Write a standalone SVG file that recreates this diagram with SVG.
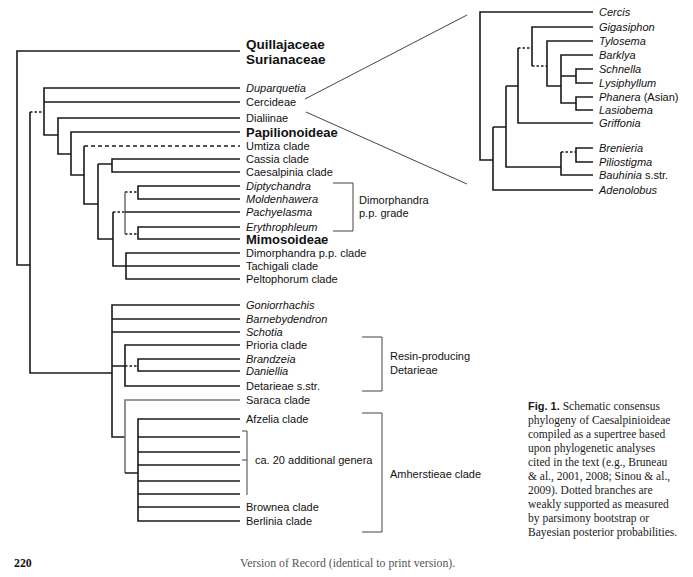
<svg xmlns="http://www.w3.org/2000/svg" width="693" height="577" viewBox="0 0 693 577">
<style>
.br{stroke:#1a1a1a;stroke-width:1.6;fill:none}
.g{stroke:#777}
.dot{stroke-dasharray:2.5 2}
.dash{stroke-dasharray:4 3}
.bk{stroke:#444;stroke-width:1;fill:none}
text{font-family:"Liberation Sans",Arial,sans-serif;font-size:11px;fill:#111}
.i{font-style:italic}
.b{font-weight:bold;font-size:13px}
.q{font-weight:bold;font-size:13.5px}
.cap{font-family:"Liberation Serif","Times New Roman",serif;font-size:11.5px;fill:#1a1a1a}
.capb{font-family:"Liberation Sans",Arial,sans-serif;font-weight:bold;font-size:11px}
.ft{font-family:"Liberation Serif","Times New Roman",serif;font-size:11.8px;fill:#555}
</style>
<rect width="693" height="577" fill="#fff"/>
<g id="connectors">
<path class="br" d="M240,51H17V265H30 M30,112V373H112"/>
<path class="br dot" d="M30,112H44"/>
<path class="br" d="M240,88H44V135H58 M44,102H240"/>
<path class="br" d="M240,118H58V154H71"/>
<path class="br" d="M240,132H71V175H84"/>
<path class="br dash" d="M84,146H240"/>
<path class="br" d="M84,146V204H98"/>
<path class="br" d="M98,164V239H113 M98,164H112"/>
<path class="br" d="M240,159H112V172H240"/>
<path class="br" d="M113,212V266H126"/>
<path class="br dot" d="M113,212H125 M125,192H138 M125,234H138"/>
<path class="br g" d="M125,192V234"/>
<path class="br" d="M125,212H240"/>
<path class="br" d="M240,186H138V199H240"/>
<path class="br" d="M240,227H138V239H240"/>
<path class="br" d="M240,253H126V279H240 M126,266H240"/>
<path class="br" d="M240,305H112V437H125 M112,319H240 M112,332H240"/>
<path class="br" d="M112,366H125 M240,345H125V386H240"/>
<path class="br dot" d="M125,366H138"/>
<path class="br" d="M240,359H138V371H240"/>
<path class="br g" d="M240,400H125V473"/>
<path class="br" d="M125,473H138 M240,419H138V521H240 M138,437H240 M138,452H240 M138,465H240 M138,481H240 M138,494H240 M138,507H240"/>
<path class="bk" d="M333,183H353V231H333"/>
<path class="bk" d="M362,337H382V391H362"/>
<path class="bk" d="M362,413H382V532H362"/>
<path class="bk" d="M242,431H247V495 M242,460H247"/>
<path class="bk" d="M305,99L467,15 M306,112L467,184"/>
<path class="br" d="M593,12H480V160H493"/>
<path class="br" d="M493,127V190H593 M493,127H506"/>
<path class="br" d="M506,86V167H561 M506,86H518"/>
<path class="br" d="M518,48V123H593"/>
<path class="br dot" d="M518,48H532 M532,66H547 M561,152H576"/>
<path class="br" d="M593,27H532V66"/>
<path class="br" d="M593,41H547V86H561"/>
<path class="br" d="M593,55H561V103H576 M561,76H576"/>
<path class="br" d="M593,69H576V83H593"/>
<path class="br" d="M593,97H576V110H593"/>
<path class="br" d="M561,152V175H593"/>
<path class="br" d="M593,148H576V162H593"/>
</g>
<g id="outgroups"><text class="q" x="246" y="49">Quillajaceae</text><text class="q" x="246" y="64">Surianaceae</text></g>
<g id="duparquetia"><text class="i" x="246" y="92">Duparquetia</text></g>
<g id="cercideae"><text x="246" y="106">Cercideae</text></g>
<g id="dialiinae"><text x="246" y="122">Dialiinae</text></g>
<g id="papilionoideae"><text class="b" x="246" y="137">Papilionoideae</text></g>
<g id="umtiza"><text x="246" y="150">Umtiza clade</text></g>
<g id="cassia"><text x="246" y="163">Cassia clade</text></g>
<g id="caesalpinia"><text x="246" y="176">Caesalpinia clade</text></g>
<g id="diptychandra"><text class="i" x="246" y="190">Diptychandra</text></g>
<g id="moldenhawera"><text class="i" x="246" y="203">Moldenhawera</text></g>
<g id="pachyelasma"><text class="i" x="246" y="216">Pachyelasma</text></g>
<g id="erythrophleum"><text class="i" x="246" y="231">Erythrophleum</text></g>
<g id="mimosoideae"><text class="b" x="246" y="244">Mimosoideae</text></g>
<g id="dimorphandra-clade"><text x="246" y="257">Dimorphandra p.p. clade</text></g>
<g id="tachigali"><text x="246" y="270">Tachigali clade</text></g>
<g id="peltophorum"><text x="246" y="283">Peltophorum clade</text></g>
<g id="dimorphandra-grade"><text x="359" y="204">Dimorphandra</text><text x="359" y="217">p.p. grade</text></g>
<g id="goniorrhachis"><text class="i" x="246" y="309">Goniorrhachis</text></g>
<g id="barnebydendron"><text class="i" x="246" y="323">Barnebydendron</text></g>
<g id="schotia"><text class="i" x="246" y="336">Schotia</text></g>
<g id="prioria"><text x="246" y="349">Prioria clade</text></g>
<g id="brandzeia"><text class="i" x="246" y="363">Brandzeia</text></g>
<g id="daniellia"><text class="i" x="246" y="375">Daniellia</text></g>
<g id="detarieae"><text x="246" y="390">Detarieae s.str.</text></g>
<g id="resin"><text x="390" y="360">Resin-producing</text><text x="390" y="374">Detarieae</text></g>
<g id="saraca"><text x="246" y="404">Saraca clade</text></g>
<g id="afzelia"><text x="246" y="423">Afzelia clade</text></g>
<g id="additional"><text x="255" y="464">ca. 20 additional genera</text></g>
<g id="brownea"><text x="246" y="511">Brownea clade</text></g>
<g id="berlinia"><text x="246" y="525">Berlinia clade</text></g>
<g id="amherstieae"><text x="390" y="478">Amherstieae clade</text></g>
<g id="inset">
<text class="i" x="599" y="16">Cercis</text>
<text class="i" x="599" y="31">Gigasiphon</text>
<text class="i" x="599" y="45">Tylosema</text>
<text class="i" x="599" y="59">Barklya</text>
<text class="i" x="599" y="73">Schnella</text>
<text class="i" x="599" y="87">Lysiphyllum</text>
<text x="599" y="101"><tspan class="i">Phanera</tspan> (Asian)</text>
<text class="i" x="599" y="114">Lasiobema</text>
<text class="i" x="599" y="127">Griffonia</text>
<text class="i" x="599" y="152">Brenieria</text>
<text class="i" x="599" y="166">Piliostigma</text>
<text x="599" y="179"><tspan class="i">Bauhinia</tspan> s.str.</text>
<text class="i" x="599" y="194">Adenolobus</text>
</g>
<g id="caption">
<text class="cap" x="528" y="410"><tspan class="capb">Fig. 1.</tspan> Schematic consensus</text>
<text class="cap" x="528" y="424">phylogeny of Caesalpinioideae</text>
<text class="cap" x="528" y="438">compiled as a supertree based</text>
<text class="cap" x="528" y="452">upon phylogenetic analyses</text>
<text class="cap" x="528" y="466">cited in the text (e.g., Bruneau</text>
<text class="cap" x="528" y="480">&amp; al., 2001, 2008; Sinou &amp; al.,</text>
<text class="cap" x="528" y="494">2009). Dotted branches are</text>
<text class="cap" x="528" y="508">weakly supported as measured</text>
<text class="cap" x="528" y="522">by parsimony bootstrap or</text>
<text class="cap" x="528" y="536">Bayesian posterior probabilities.</text>
</g>
<g id="footer">
<text class="ft" x="14" y="567" style="font-weight:bold;fill:#111">220</text>
<text class="ft" x="240" y="567">Version of Record (identical to print version).</text>
</g>
</svg>
